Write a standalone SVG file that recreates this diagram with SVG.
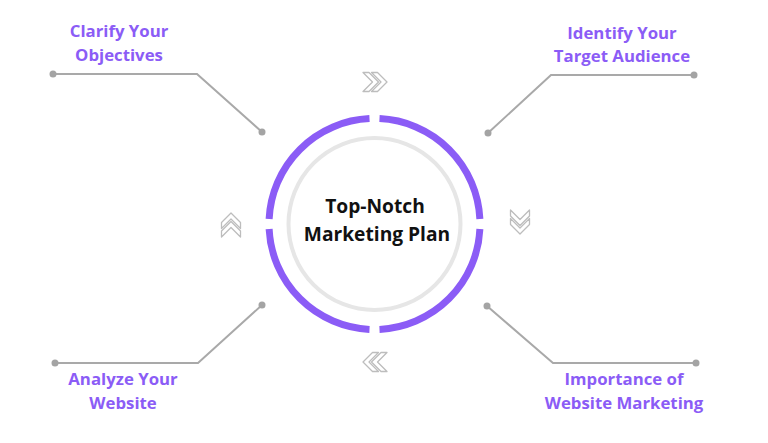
<svg xmlns="http://www.w3.org/2000/svg" xmlns:xlink="http://www.w3.org/1999/xlink" width="768" height="443" viewBox="0 0 768 443">
<style>
.lbl{font-family:"Open Sans","Liberation Sans",sans-serif;font-weight:700;font-size:16.8px;fill:#8b5cf6;text-anchor:middle}
.ctr{font-family:"Open Sans","Liberation Sans",sans-serif;font-weight:700;font-size:19.2px;fill:#111;text-anchor:middle}
.ln{fill:none;stroke:#a9a9a9;stroke-width:2}
.dot{fill:#a4a4a4}
.seg{fill:none;stroke:#8b5cf6;stroke-width:7}
.chev{fill:#fff;stroke:#bdbdbd;stroke-width:1.3;stroke-linejoin:round}
</style>
<defs>
<g id="chev">
<path class="chev" d="M-12,-9.5 L-6,-9.5 L3.5,0 L-6,9.5 L-12,9.5 L-2.5,0 Z"/>
<path class="chev" d="M-3.5,-9.5 L2.5,-9.5 L12,0 L2.5,9.5 L-3.5,9.5 L6,0 Z"/>
</g>
</defs>
<rect width="768" height="443" fill="#fff"/>
<g id="connectors">
<polyline class="ln" points="53,74 197,74 262,132"/>
<circle class="dot" cx="53" cy="74" r="3.5"/><circle class="dot" cx="262" cy="132" r="3.5"/>
<polyline class="ln" points="694,75 551,75 488,133"/>
<circle class="dot" cx="694" cy="75" r="3.5"/><circle class="dot" cx="488" cy="133" r="3.5"/>
<polyline class="ln" points="55,363 198,363 262,305"/>
<circle class="dot" cx="55" cy="363" r="3.5"/><circle class="dot" cx="262" cy="305" r="3.5"/>
<polyline class="ln" points="696,363 553,363 487,306"/>
<circle class="dot" cx="696" cy="363" r="3.5"/><circle class="dot" cx="487" cy="306" r="3.5"/>
</g>
<g id="center">
<circle cx="374.5" cy="224" r="86" fill="#fff" stroke="#e6e6e6" stroke-width="4"/>
<path class="seg" d="M379.5,118.62 A105.5,105.5 0 0 1 479.88,219"/>
<path class="seg" d="M479.88,229 A105.5,105.5 0 0 1 379.5,329.38"/>
<path class="seg" d="M369.5,329.38 A105.5,105.5 0 0 1 269.12,229"/>
<path class="seg" d="M269.12,219 A105.5,105.5 0 0 1 369.5,118.62"/>
<text class="ctr" x="375" y="213">Top-Notch</text>
<text class="ctr" x="377" y="241">Marketing Plan</text>
</g>
<g id="arrows">
<use xlink:href="#chev" transform="translate(375,82)"/>
<use xlink:href="#chev" transform="translate(520,222) rotate(90)"/>
<use xlink:href="#chev" transform="translate(375,362) rotate(180)"/>
<use xlink:href="#chev" transform="translate(231,225) rotate(-90)"/>
</g>
<g id="n1"><text class="lbl" x="119" y="37">Clarify Your</text><text class="lbl" x="119" y="61">Objectives</text></g>
<g id="n2"><text class="lbl" x="622" y="39">Identify Your</text><text class="lbl" x="622" y="62">Target Audience</text></g>
<g id="n3"><text class="lbl" x="123" y="385">Analyze Your</text><text class="lbl" x="123" y="409">Website</text></g>
<g id="n4"><text class="lbl" x="624" y="385">Importance of</text><text class="lbl" x="624" y="409">Website Marketing</text></g>
</svg>
